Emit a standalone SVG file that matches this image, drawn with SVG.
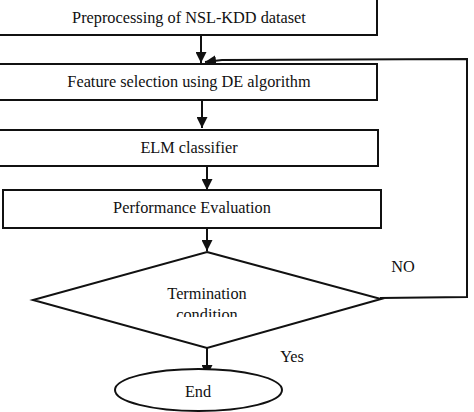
<svg xmlns="http://www.w3.org/2000/svg" width="474" height="412" viewBox="0 0 474 412">
<style>
.box{fill:#fff;stroke:#111;stroke-width:2}
.ln{fill:none;stroke:#111;stroke-width:2}
.t{font-family:"Liberation Serif","Times New Roman",serif;font-size:16.3px;fill:#111;text-anchor:middle}
</style>
<defs>
<marker id="ah" viewBox="0 0 10 10" refX="10" refY="5" markerWidth="5.5" markerHeight="5.5" markerUnits="strokeWidth" orient="auto">
<path d="M0,0 L10,5 L0,10 z" fill="#111"/>
</marker>
<clipPath id="dclip"><rect x="0" y="0" width="474" height="317"/></clipPath>
</defs>
<rect width="474" height="412" fill="#fff"/>
<g id="connectors">
<line class="ln" x1="201" y1="35" x2="201" y2="63" marker-end="url(#ah)"/>
<polyline class="ln" points="380,298 467,297 467,59 222,60 205,62" marker-end="url(#ah)"/>
<line class="ln" x1="202" y1="100" x2="202" y2="128" marker-end="url(#ah)"/>
<line class="ln" x1="207" y1="166" x2="207" y2="190" marker-end="url(#ah)"/>
<line class="ln" x1="207" y1="224" x2="207" y2="251" marker-end="url(#ah)"/>
<line class="ln" x1="207" y1="348" x2="207" y2="376" marker-end="url(#ah)"/>
<text class="t" x="403" y="272">NO</text>
<text class="t" x="292" y="362">Yes</text>
</g>
<g id="preprocess">
<rect class="box" x="-5" y="-5" width="382" height="40"/>
<text class="t" x="189" y="23">Preprocessing of NSL-KDD dataset</text>
</g>
<g id="feature">
<rect class="box" x="-5" y="64" width="382" height="36"/>
<text class="t" x="189" y="87">Feature selection using DE algorithm</text>
</g>
<g id="elm">
<rect class="box" x="-5" y="130" width="383" height="36"/>
<text class="t" x="189" y="153">ELM classifier</text>
</g>
<g id="perf">
<rect class="box" x="3" y="190" width="378" height="38"/>
<text class="t" x="192" y="213">Performance Evaluation</text>
</g>
<g id="termination">
<polygon class="box" points="207,252 381,299 207,348 33,300"/>
<text class="t" x="207" y="299">Termination</text>
<text class="t" x="207" y="320" clip-path="url(#dclip)">condition</text>
</g>
<g id="end">
<ellipse class="box" cx="198.5" cy="390" rx="83.5" ry="21"/>
<text class="t" x="198" y="397">End</text>
</g>
</svg>
